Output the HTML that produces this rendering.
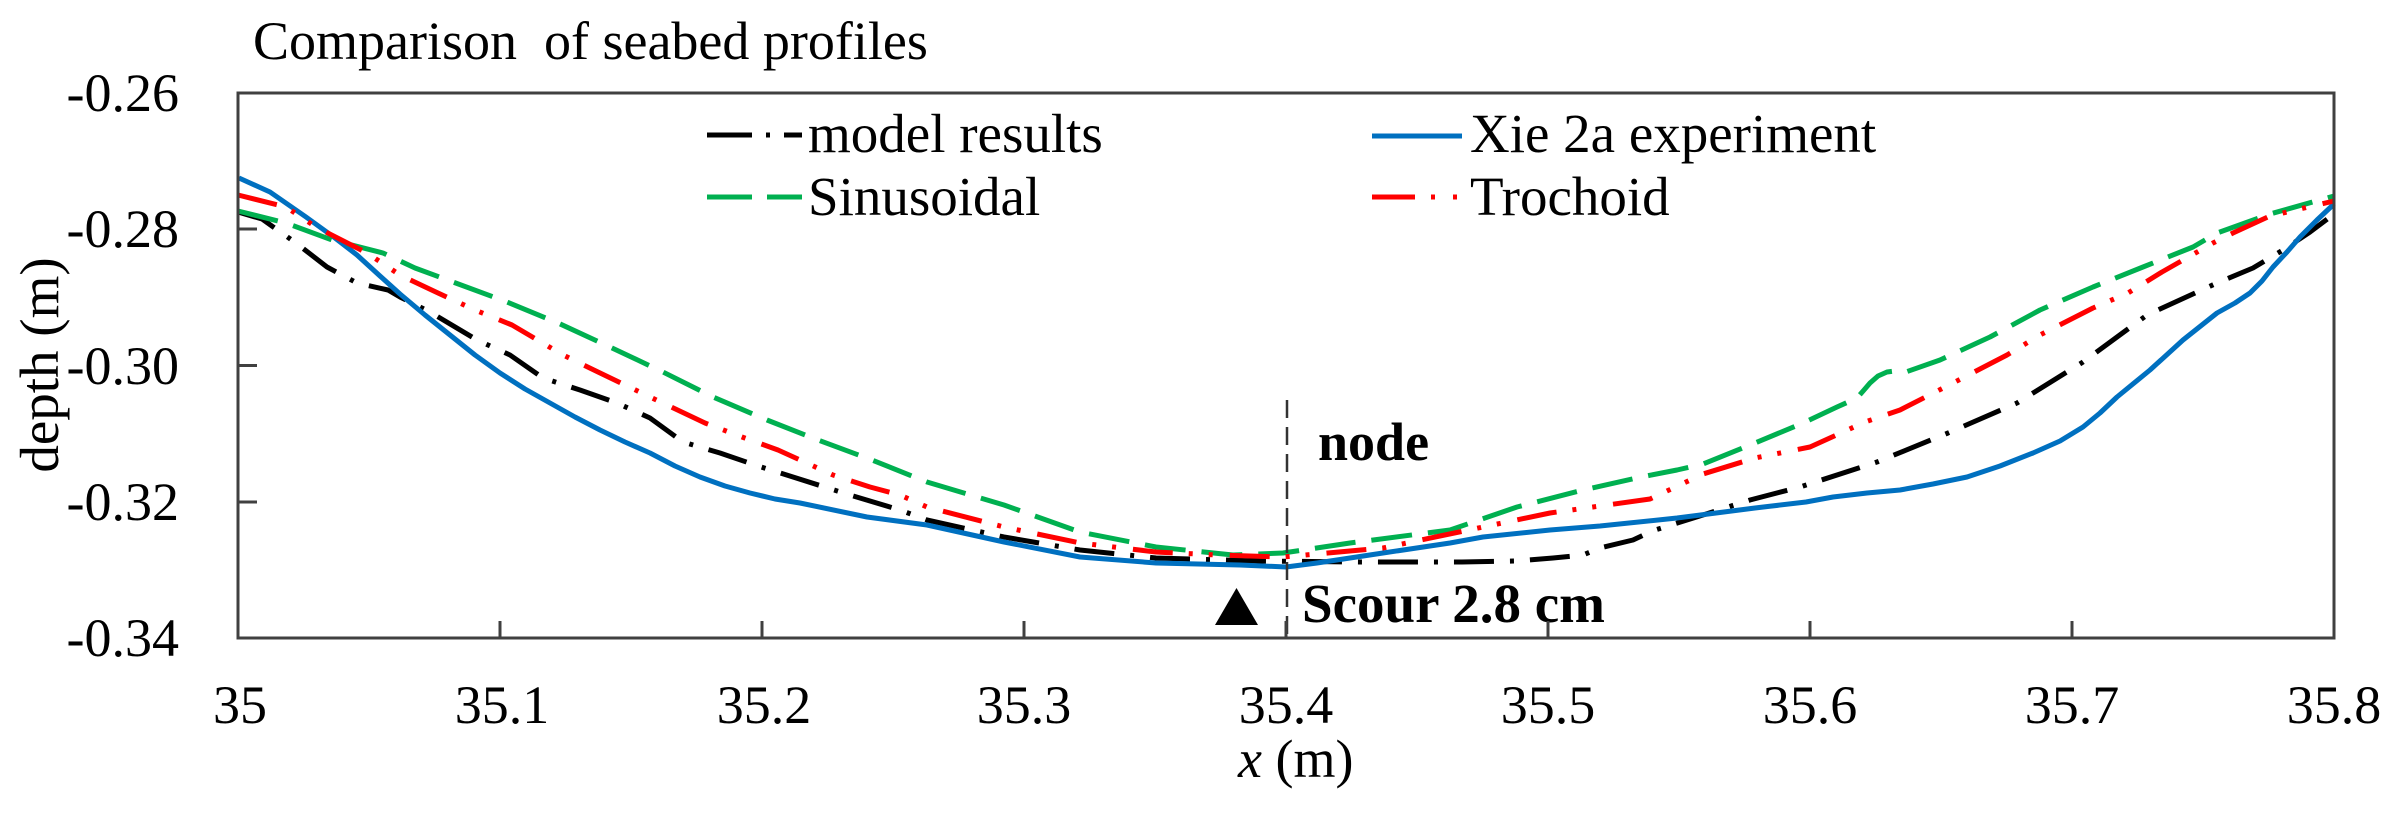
<!DOCTYPE html>
<html>
<head>
<meta charset="utf-8">
<style>
  html, body { margin: 0; padding: 0; background: #ffffff; }
  svg { display: block; }
  text { font-family: "Liberation Serif", "Times New Roman", serif; fill: #000; }
</style>
</head>
<body>
<svg width="2404" height="815" viewBox="0 0 2404 815" xmlns="http://www.w3.org/2000/svg">
  <rect x="0" y="0" width="2404" height="815" fill="#ffffff"/>

  <!-- Title -->
  <text x="253" y="59" font-size="54" xml:space="preserve">Comparison  of seabed profiles</text>

  <!-- Y tick labels -->
  <g font-size="54" text-anchor="end">
    <text x="179" y="111">-0.26</text>
    <text x="179" y="247">-0.28</text>
    <text x="179" y="384">-0.30</text>
    <text x="179" y="520">-0.32</text>
    <text x="179" y="656">-0.34</text>
  </g>

  <!-- Y axis label -->
  <text transform="translate(58,365) rotate(-90)" font-size="55" text-anchor="middle">depth (m)</text>

  <!-- X tick labels -->
  <g font-size="54" text-anchor="middle">
    <text x="240" y="723">35</text>
    <text x="502" y="723">35.1</text>
    <text x="764" y="723">35.2</text>
    <text x="1024" y="723">35.3</text>
    <text x="1286" y="723">35.4</text>
    <text x="1548" y="723">35.5</text>
    <text x="1810" y="723">35.6</text>
    <text x="2072" y="723">35.7</text>
    <text x="2334" y="723">35.8</text>
  </g>

  <!-- X axis label -->
  <text x="1238" y="777" font-size="54"><tspan font-style="italic">x</tspan> (m)</text>

  <!-- Series: model results (black dash-dot) -->
  <polyline fill="none" stroke="#000000" stroke-width="5" stroke-linejoin="round" stroke-dasharray="40 16 4 16"
    points="238,212 262,219 296,243 327,267 357,283 388,290 400,297 430,312 477,340 510,355 543,378 580,390 617,403 650,418 683,442 720,453 758,466 793,477 850,495 900,510 927,520 1004,537 1080,550 1156,558 1258,561 1360,562 1462,562 1517,561 1553,558 1583,555 1600,548 1633,540 1652,531 1703,515 1750,500 1800,487 1877,462 1948,433 2017,403 2083,362 2147,315 2217,283 2253,268 2283,250 2310,232 2334,214"/>

  <!-- Series: Xie 2a experiment (blue solid) -->
  <polyline fill="none" stroke="#0070C0" stroke-width="5" stroke-linejoin="round"
    points="239,178 270,192 306,217 335,238 357,255 380,276 400,294 425,315 450,335 475,355 500,373 525,389 550,403 575,417 600,430 625,442 650,453 675,466 700,477 725,486 750,493 775,499 800,503 867,517 927,525 1004,542 1080,557 1156,563 1240,565 1286,567 1317,563 1383,553 1450,543 1483,537 1550,530 1600,526 1677,518 1755,508 1806,502 1833,497 1867,493 1900,490 1933,484 1967,477 2000,466 2033,453 2060,441 2083,427 2100,413 2117,397 2150,370 2183,340 2217,313 2235,303 2250,293 2262,281 2273,267 2287,252 2300,237 2317,220 2334,204"/>

  <!-- Series: Sinusoidal (green dashed) -->
  <polyline fill="none" stroke="#00B050" stroke-width="5" stroke-linejoin="round" stroke-dasharray="41 16"
    points="238,211 286,223 332,240 383,253 415,268 453,282 507,302 558,323 610,347 663,372 713,397 767,420 818,440 872,460 927,482 1004,505 1080,532 1156,547 1233,555 1283,553 1350,543 1450,530 1517,507 1583,490 1641,477 1677,470 1703,464 1755,443 1803,423 1837,407 1857,398 1864,390 1870,383 1878,376 1887,372 1895,371 1903,373 1940,360 1990,337 2040,310 2093,287 2143,267 2193,247 2217,233 2270,214 2334,196"/>

  <!-- Series: Trochoid (red dash-dot-dot) -->
  <polyline fill="none" stroke="#FF0000" stroke-width="5" stroke-linejoin="round" stroke-dasharray="40 16 4 16 4 17"
    points="238,195 286,207 316,227 367,253 400,275 438,293 475,310 512,325 563,355 598,372 650,397 705,423 742,437 778,450 833,475 870,487 900,495 927,507 1004,527 1080,543 1156,552 1217,555 1283,557 1383,548 1483,527 1550,513 1600,506 1650,499 1703,474 1755,458 1810,447 1865,422 1900,410 1953,383 2007,355 2040,335 2093,308 2128,293 2162,272 2213,243 2233,233 2270,216 2334,201"/>

  <!-- Node line -->
  <line x1="1287" y1="400" x2="1287" y2="638" stroke="#333333" stroke-width="2.5" stroke-dasharray="18 9"/>
  <text x="1318" y="460" font-size="54" font-weight="bold">node</text>

  <!-- Triangle marker -->
  <polygon points="1215,625 1258,625 1236.5,588" fill="#000000"/>
  <text x="1302" y="622" font-size="55" font-weight="bold">Scour 2.8 cm</text>

  <!-- Frame -->
  <rect x="238" y="93" width="2096" height="545" fill="none" stroke="#404040" stroke-width="3"/>

  <!-- Y ticks (inside) -->
  <g stroke="#404040" stroke-width="3">
    <line x1="238" y1="229" x2="257" y2="229"/>
    <line x1="238" y1="365.5" x2="257" y2="365.5"/>
    <line x1="238" y1="502" x2="257" y2="502"/>
  </g>
  <!-- X ticks (inside) -->
  <g stroke="#404040" stroke-width="3">
    <line x1="500" y1="638" x2="500" y2="621"/>
    <line x1="762" y1="638" x2="762" y2="621"/>
    <line x1="1024" y1="638" x2="1024" y2="621"/>
    <line x1="1286" y1="638" x2="1286" y2="621"/>
    <line x1="1548" y1="638" x2="1548" y2="621"/>
    <line x1="1810" y1="638" x2="1810" y2="621"/>
    <line x1="2072" y1="638" x2="2072" y2="621"/>
  </g>

  <!-- Legend -->
  <line x1="707" y1="135" x2="802" y2="135" stroke="#000000" stroke-width="5" stroke-dasharray="45 14 4 14"/>
  <text x="808" y="152" font-size="55">model results</text>

  <line x1="707" y1="197" x2="802" y2="197" stroke="#00B050" stroke-width="5" stroke-dasharray="45 15"/>
  <text x="808" y="215" font-size="55">Sinusoidal</text>

  <line x1="1372" y1="136" x2="1462" y2="136" stroke="#0070C0" stroke-width="5"/>
  <text x="1470" y="152" font-size="55">Xie 2a experiment</text>

  <line x1="1372" y1="197" x2="1462" y2="197" stroke="#FF0000" stroke-width="5" stroke-dasharray="43 16 4 18 4 16"/>
  <text x="1470" y="215" font-size="55">Trochoid</text>
</svg>
</body>
</html>
